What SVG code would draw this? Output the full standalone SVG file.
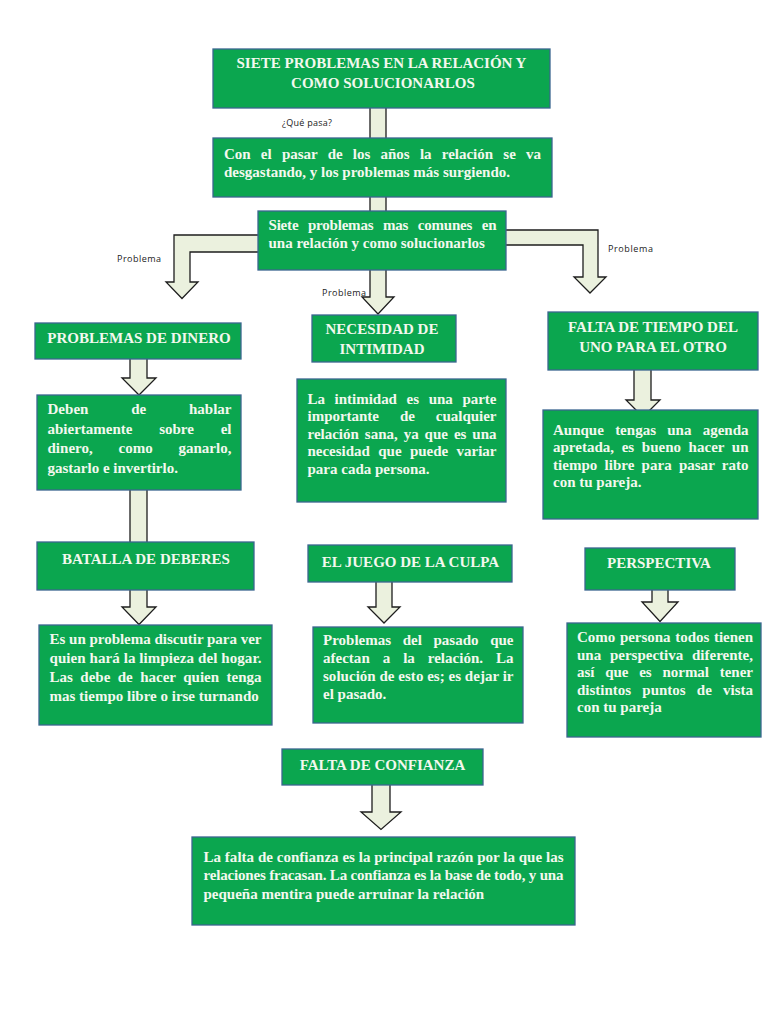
<svg xmlns="http://www.w3.org/2000/svg" width="768" height="1024" viewBox="0 0 768 1024">
<style>
.box{fill:#0ba64f;stroke:#3b6690;stroke-width:1.3}
.t{font-family:"Liberation Serif","Times New Roman",serif;font-weight:bold;font-size:15px;fill:#f3f8ee}
.h{text-anchor:middle}
.lbl{font-family:"Open Sans","Liberation Sans",sans-serif;font-size:9px;fill:#222}
.arr{fill:#ebf1de;stroke:#1e1e1e;stroke-width:1.3;stroke-linejoin:miter}
</style>
<rect width="768" height="1024" fill="#ffffff"/>
<g id="connectors">
<polygon class="arr" points="370,100 386,100 386,145 370,145"/>
<polygon class="arr" points="370,190 386,190 386,215 370,215"/>
<polygon class="arr" points="370,265 386,265 386,297 394,297 378,314 362,297 370,297"/>
<polygon class="arr" points="265,235 174,235 174,282 166,282 182,298.5 198,282 190,282 190,252 265,252"/>
<polygon class="arr" points="500,230 598,230 598,277 606,277 590,293 574,277 583,277 583,245 500,245"/>
<polygon class="arr" points="130,355 147,355 147,378 156,378 139,395 122,378 130,378"/>
<polygon class="arr" points="130,485 147,485 147,546 130,546"/>
<polygon class="arr" points="130,586 147,586 147,607 156,607 139,624.5 122,607 130,607"/>
<polygon class="arr" points="376,578 392,578 392,607 400,607 384,623 368,607 376,607"/>
<polygon class="arr" points="634,366 651,366 651,400 660,400 643,417 626,400 634,400"/>
<polygon class="arr" points="652,586 668,586 668,602 678,602 660,621.5 642,602 652,602"/>
<polygon class="arr" points="372,781 390,781 390,812 401,812 381,829.5 361,812 372,812"/>
<text class="lbl" x="282" y="126" textLength="50">¿Qué pasa?</text>
<text class="lbl" x="117" y="262" textLength="44">Problema</text>
<text class="lbl" x="322" y="296" textLength="44">Problema</text>
<text class="lbl" x="608" y="252" textLength="45">Problema</text>
</g>
<g id="title">
<rect class="box" x="213" y="49" width="337" height="59"/>
<text class="t h" x="381.5" y="68">SIETE PROBLEMAS EN LA RELACIÓN Y</text>
<text class="t h" x="383" y="88">COMO SOLUCIONARLOS</text>
</g>
<g id="intro">
<rect class="box" x="213" y="138" width="339" height="59"/>
<text class="t" x="224" y="159" textLength="317" lengthAdjust="spacing" style="word-spacing:6.5px">Con el pasar de los años la relación se va</text>
<text class="t" x="224" y="177">desgastando, y los problemas más surgiendo.</text>
</g>
<g id="siete">
<rect class="box" x="258" y="211" width="248" height="59"/>
<text class="t" x="268.5" y="229.5" textLength="228" lengthAdjust="spacing" style="word-spacing:6px">Siete problemas mas comunes en</text>
<text class="t" x="268.5" y="247.5">una relación y como solucionarlos</text>
</g>
<g id="dinero">
<rect class="box" x="35" y="323" width="206" height="36"/>
<text class="t h" x="139" y="343">PROBLEMAS DE DINERO</text>
</g>
<g id="dinero-sol">
<rect class="box" x="37" y="395" width="204" height="95"/>
<text class="t" x="47.5" y="414" textLength="184" lengthAdjust="spacing" style="word-spacing:39px">Deben de hablar</text>
<text class="t" x="47.5" y="433.5" textLength="184" lengthAdjust="spacing" style="word-spacing:23px">abiertamente sobre el</text>
<text class="t" x="47.5" y="453" textLength="184" lengthAdjust="spacing" style="word-spacing:22px">dinero, como ganarlo,</text>
<text class="t" x="47.5" y="472.5">gastarlo e invertirlo.</text>
</g>
<g id="batalla">
<rect class="box" x="37" y="542" width="217" height="48"/>
<text class="t h" x="146" y="564">BATALLA DE DEBERES</text>
</g>
<g id="batalla-sol">
<rect class="box" x="39" y="625" width="233" height="100"/>
<text class="t" x="49.5" y="644" textLength="212" lengthAdjust="spacing">Es un problema discutir para ver</text>
<text class="t" x="49.5" y="663" textLength="212" lengthAdjust="spacing">quien hará la limpieza del hogar.</text>
<text class="t" x="49.5" y="682" textLength="212" lengthAdjust="spacing" style="word-spacing:3.7px">Las debe de hacer quien tenga</text>
<text class="t" x="49.5" y="700.5">mas tiempo libre o irse turnando</text>
</g>
<g id="intimidad">
<rect class="box" x="312" y="315" width="144" height="47"/>
<text class="t h" x="382" y="334">NECESIDAD DE</text>
<text class="t h" x="382" y="354">INTIMIDAD</text>
</g>
<g id="intimidad-sol">
<rect class="box" x="297" y="379" width="209" height="123"/>
<text class="t" x="307.5" y="403.5" textLength="189" lengthAdjust="spacing" style="word-spacing:5.9px">La intimidad es una parte</text>
<text class="t" x="307.5" y="421" textLength="189" lengthAdjust="spacing" style="word-spacing:17.2px">importante de cualquier</text>
<text class="t" x="307.5" y="438.5" textLength="189" lengthAdjust="spacing" style="word-spacing:2.2px">relación sana, ya que es una</text>
<text class="t" x="307.5" y="456" textLength="189" lengthAdjust="spacing" style="word-spacing:4.7px">necesidad que puede variar</text>
<text class="t" x="307.5" y="473.5">para cada persona.</text>
</g>
<g id="tiempo">
<rect class="box" x="548" y="312" width="210" height="58"/>
<text class="t h" x="653" y="332">FALTA DE TIEMPO DEL</text>
<text class="t h" x="653" y="352">UNO PARA EL OTRO</text>
</g>
<g id="tiempo-sol">
<rect class="box" x="543" y="410" width="215" height="109"/>
<text class="t" x="553" y="434.5" textLength="195.5" lengthAdjust="spacing" style="word-spacing:7.5px">Aunque tengas una agenda</text>
<text class="t" x="553" y="452" textLength="195.5" lengthAdjust="spacing" style="word-spacing:3.8px">apretada, es bueno hacer un</text>
<text class="t" x="553" y="469.5" textLength="195.5" lengthAdjust="spacing" style="word-spacing:3.5px">tiempo libre para pasar rato</text>
<text class="t" x="553" y="487">con tu pareja.</text>
</g>
<g id="culpa">
<rect class="box" x="308" y="545" width="204" height="37"/>
<text class="t h" x="410.5" y="567">EL JUEGO DE LA CULPA</text>
</g>
<g id="culpa-sol">
<rect class="box" x="313" y="627" width="210" height="96"/>
<text class="t" x="323" y="645" textLength="190.5" lengthAdjust="spacing" style="word-spacing:7.8px">Problemas del pasado que</text>
<text class="t" x="323" y="663" textLength="190.5" lengthAdjust="spacing" style="word-spacing:9.2px">afectan a la relación. La</text>
<text class="t" x="323" y="681" textLength="190.5" lengthAdjust="spacing">solución de esto es; es dejar ir</text>
<text class="t" x="323" y="699">el pasado.</text>
</g>
<g id="perspectiva">
<rect class="box" x="585" y="548" width="150" height="42"/>
<text class="t h" x="659" y="568">PERSPECTIVA</text>
</g>
<g id="perspectiva-sol">
<rect class="box" x="567" y="623" width="194" height="114"/>
<text class="t" x="577" y="642" textLength="176" lengthAdjust="spacing" style="word-spacing:1px">Como persona todos tienen</text>
<text class="t" x="577" y="659.5" textLength="176" lengthAdjust="spacing" style="word-spacing:5px">una perspectiva diferente,</text>
<text class="t" x="577" y="677" textLength="176" lengthAdjust="spacing" style="word-spacing:7px">así que es normal tener</text>
<text class="t" x="577" y="694.5" textLength="176" lengthAdjust="spacing" style="word-spacing:7.5px">distintos puntos de vista</text>
<text class="t" x="577" y="712">con tu pareja</text>
</g>
<g id="confianza">
<rect class="box" x="282" y="749" width="201" height="36"/>
<text class="t h" x="382.5" y="770">FALTA DE CONFIANZA</text>
</g>
<g id="confianza-sol">
<rect class="box" x="192" y="837" width="383" height="88"/>
<text class="t" x="203.5" y="862" textLength="360" lengthAdjust="spacing">La falta de confianza es la principal razón por la que las</text>
<text class="t" x="203.5" y="880" textLength="360" lengthAdjust="spacing">relaciones fracasan. La confianza es la base de todo, y una</text>
<text class="t" x="203.5" y="898.5">pequeña mentira puede arruinar la relación</text>
</g>
</svg>
